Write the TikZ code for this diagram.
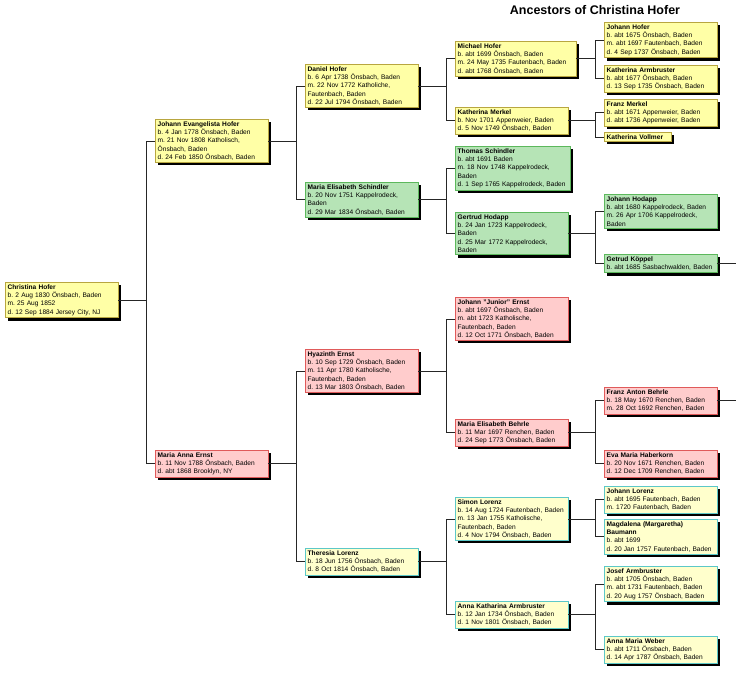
\documentclass[tikz,border=0pt]{standalone}
\usepackage{fontspec}
\setmainfont{Liberation Sans}
\usetikzlibrary{shadows}
\frenchspacing

\definecolor{hoferfill}{HTML}{FFFFA6}
\definecolor{hoferline}{HTML}{B8A640}
\definecolor{schindlerfill}{HTML}{B6E4B6}
\definecolor{schindlerline}{HTML}{5CB85C}
\definecolor{ernstfill}{HTML}{FFCCCC}
\definecolor{ernstline}{HTML}{E05A5A}
\definecolor{lorenzfill}{HTML}{FFFFCC}
\definecolor{lorenzline}{HTML}{5CC8C8}

\tikzset{
person/.style={
draw,
thin,
align=left,
anchor=north west,
text width=108pt,
inner xsep=2.5pt,
inner ysep=2.2pt,
font=\fontsize{6.6}{8.3}\selectfont,
drop shadow={shadow xshift=3pt, shadow yshift=-3pt, fill=black, opacity=1}
},
hofer/.style={person, fill=hoferfill, draw=hoferline},
schindler/.style={person, fill=schindlerfill, draw=schindlerline},
ernst/.style={person, fill=ernstfill, draw=ernstline},
lorenz/.style={person, fill=lorenzfill, draw=lorenzline},
link/.style={draw=black!85, line width=0.6pt}
}

\begin{document}
\begin{tikzpicture}[x=1pt, y=-1pt]

\useasboundingbox (0,0) rectangle (736,686);

\node (title)
at (595,10)
{\fontsize{12.5}{14}\selectfont\bfseries Ancestors of Christina Hofer};

% generation 1
\node[hofer] (christina)
at (5,282)
{\textbf{Christina Hofer}\\ b. 2 Aug 1830 Önsbach, Baden\\ m. 25 Aug 1852\\ d. 12 Sep 1884 Jersey City, NJ};

% generation 2
\node[hofer] (johannev)
at (155,119)
{\textbf{Johann Evangelista Hofer}\\ b. 4 Jan 1778 Önsbach, Baden\\ m. 21 Nov 1808 Katholisch,\\ Önsbach, Baden\\ d. 24 Feb 1850 Önsbach, Baden};

\node[ernst] (mariaanna)
at (155,450)
{\textbf{Maria Anna Ernst}\\ b. 11 Nov 1788 Önsbach, Baden\\ d. abt 1868 Brooklyn, NY};

% generation 3
\node[hofer] (daniel)
at (305,64)
{\textbf{Daniel Hofer}\\ b. 6 Apr 1738 Önsbach, Baden\\ m. 22 Nov 1772 Katholiche,\\ Fautenbach, Baden\\ d. 22 Jul 1794 Önsbach, Baden};

\node[schindler] (mariaelis)
at (305,182)
{\textbf{Maria Elisabeth Schindler}\\ b. 20 Nov 1751 Kappelrodeck,\\ Baden\\ d. 29 Mar 1834 Önsbach, Baden};

\node[ernst] (hyazinth)
at (305,349)
{\textbf{Hyazinth Ernst}\\ b. 10 Sep 1729 Önsbach, Baden\\ m. 11 Apr 1780 Katholische,\\ Fautenbach, Baden\\ d. 13 Mar 1803 Önsbach, Baden};

\node[lorenz] (theresia)
at (305,548)
{\textbf{Theresia Lorenz}\\ b. 18 Jun 1756 Önsbach, Baden\\ d. 8 Oct 1814 Önsbach, Baden};

% generation 4
\node[hofer, text width=116pt] (michael)
at (455,41)
{\textbf{Michael Hofer}\\ b. abt 1699 Önsbach, Baden\\ m. 24 May 1735 Fautenbach, Baden\\ d. abt 1768 Önsbach, Baden};

\node[hofer] (katmerkel)
at (455,107)
{\textbf{Katherina Merkel}\\ b. Nov 1701 Appenweier, Baden\\ d. 5 Nov 1749 Önsbach, Baden};

\node[schindler, text width=110pt] (thomas)
at (455,146)
{\textbf{Thomas Schindler}\\ b. abt 1691 Baden\\ m. 18 Nov 1748 Kappelrodeck,\\ Baden\\ d. 1 Sep 1765 Kappelrodeck, Baden};

\node[schindler] (gertrud)
at (455,212)
{\textbf{Gertrud Hodapp}\\ b. 24 Jan 1723 Kappelrodeck,\\ Baden\\ d. 25 Mar 1772 Kappelrodeck,\\ Baden};

\node[ernst] (johannjr)
at (455,297)
{\textbf{Johann "Junior" Ernst}\\ b. abt 1697 Önsbach, Baden\\ m. abt 1723 Katholische,\\ Fautenbach, Baden\\ d. 12 Oct 1771 Önsbach, Baden};

\node[ernst] (behrle)
at (455,419)
{\textbf{Maria Elisabeth Behrle}\\ b. 11 Mar 1697 Renchen, Baden\\ d. 24 Sep 1773 Önsbach, Baden};

\node[lorenz] (simon)
at (455,497)
{\textbf{Simon Lorenz}\\ b. 14 Aug 1724 Fautenbach, Baden\\ m. 13 Jan 1755 Katholische,\\ Fautenbach, Baden\\ d. 4 Nov 1794 Önsbach, Baden};

\node[lorenz] (annakath)
at (455,601)
{\textbf{Anna Katharina Armbruster}\\ b. 12 Jan 1734 Önsbach, Baden\\ d. 1 Nov 1801 Önsbach, Baden};

% generation 5
\node[hofer] (johannhofer)
at (604,22)
{\textbf{Johann Hofer}\\ b. abt 1675 Önsbach, Baden\\ m. abt 1697 Fautenbach, Baden\\ d. 4 Sep 1737 Önsbach, Baden};

\node[hofer] (katarmb)
at (604,65)
{\textbf{Katherina Armbruster}\\ b. abt 1677 Önsbach, Baden\\ d. 13 Sep 1735 Önsbach, Baden};

\node[hofer] (franzmerkel)
at (604,99)
{\textbf{Franz Merkel}\\ b. abt 1671 Appenweier, Baden\\ d. abt 1736 Appenweier, Baden};

\node[hofer, text width=62pt] (vollmer)
at (604,132)
{\textbf{Katherina Vollmer}};

\node[schindler] (johannhodapp)
at (604,194)
{\textbf{Johann Hodapp}\\ b. abt 1680 Kappelrodeck, Baden\\ m. 26 Apr 1706 Kappelrodeck,\\ Baden};

\node[schindler] (koeppel)
at (604,254)
{\textbf{Getrud Köppel}\\ b. abt 1685 Sasbachwalden, Baden};

\node[ernst] (franzanton)
at (604,387)
{\textbf{Franz Anton Behrle}\\ b. 18 May 1670 Renchen, Baden\\ m. 28 Oct 1692 Renchen, Baden};

\node[ernst] (eva)
at (604,450)
{\textbf{Eva Maria Haberkorn}\\ b. 20 Nov 1671 Renchen, Baden\\ d. 12 Dec 1709 Renchen, Baden};

\node[lorenz] (johannlorenz)
at (604,486)
{\textbf{Johann Lorenz}\\ b. abt 1695 Fautenbach, Baden\\ m. 1720 Fautenbach, Baden};

\node[lorenz] (magdalena)
at (604,519)
{\textbf{Magdalena (Margaretha)}\\ \textbf{Baumann}\\ b. abt 1699\\ d. 20 Jan 1757 Fautenbach, Baden};

\node[lorenz] (josef)
at (604,566)
{\textbf{Josef Armbruster}\\ b. abt 1705 Önsbach, Baden\\ m. abt 1731 Fautenbach, Baden\\ d. 20 Aug 1757 Önsbach, Baden};

\node[lorenz] (annamaria)
at (604,636)
{\textbf{Anna Maria Weber}\\ b. abt 1711 Önsbach, Baden\\ d. 14 Apr 1787 Önsbach, Baden};

% columns of the tree
\coordinate (bus1) at (146,0);
\coordinate (bus2) at (296,0);
\coordinate (bus3) at (446,0);
\coordinate (bus4) at (595,0);
\coordinate (edge) at (736,0);

\draw[link] (christina.east) -- (christina.east -| bus1);
\draw[link] (johannev.west) -- (johannev.west -| bus1) -- (mariaanna.west -| bus1) -- (mariaanna.west);

\draw[link] (johannev.east) -- (johannev.east -| bus2);
\draw[link] (daniel.west) -- (daniel.west -| bus2) -- (mariaelis.west -| bus2) -- (mariaelis.west);

\draw[link] (mariaanna.east) -- (mariaanna.east -| bus2);
\draw[link] (hyazinth.west) -- (hyazinth.west -| bus2) -- (theresia.west -| bus2) -- (theresia.west);

\draw[link] (daniel.east) -- (daniel.east -| bus3);
\draw[link] (michael.west) -- (michael.west -| bus3) -- (katmerkel.west -| bus3) -- (katmerkel.west);

\draw[link] (mariaelis.east) -- (mariaelis.east -| bus3);
\draw[link] (thomas.west) -- (thomas.west -| bus3) -- (gertrud.west -| bus3) -- (gertrud.west);

\draw[link] (hyazinth.east) -- (hyazinth.east -| bus3);
\draw[link] (johannjr.west) -- (johannjr.west -| bus3) -- (behrle.west -| bus3) -- (behrle.west);

\draw[link] (theresia.east) -- (theresia.east -| bus3);
\draw[link] (simon.west) -- (simon.west -| bus3) -- (annakath.west -| bus3) -- (annakath.west);

\draw[link] (michael.east) -- (michael.east -| bus4);
\draw[link] (johannhofer.west) -- (johannhofer.west -| bus4) -- (katarmb.west -| bus4) -- (katarmb.west);

\draw[link] (katmerkel.east) -- (katmerkel.east -| bus4);
\draw[link] (franzmerkel.west) -- (franzmerkel.west -| bus4) -- (vollmer.west -| bus4) -- (vollmer.west);

\draw[link] (gertrud.east) -- (gertrud.east -| bus4);
\draw[link] (johannhodapp.west) -- (johannhodapp.west -| bus4) -- (koeppel.west -| bus4) -- (koeppel.west);

\draw[link] (behrle.east) -- (behrle.east -| bus4);
\draw[link] (franzanton.west) -- (franzanton.west -| bus4) -- (eva.west -| bus4) -- (eva.west);

\draw[link] (simon.east) -- (simon.east -| bus4);
\draw[link] (johannlorenz.west) -- (johannlorenz.west -| bus4) -- (magdalena.west -| bus4) -- (magdalena.west);

\draw[link] (annakath.east) -- (annakath.east -| bus4);
\draw[link] (josef.west) -- (josef.west -| bus4) -- (annamaria.west -| bus4) -- (annamaria.west);

% lines running off the page
\draw[link] (koeppel.east) -- (koeppel.east -| edge);
\draw[link] (franzanton.east) -- (franzanton.east -| edge);

\end{tikzpicture}
\end{document}
